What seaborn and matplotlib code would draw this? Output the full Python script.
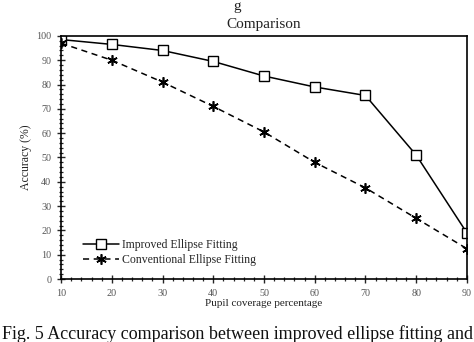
import pandas as pd
import matplotlib.pyplot as plt
import seaborn as sns
from matplotlib.ticker import MultipleLocator

coverage = [10, 20, 30, 40, 50, 60, 70, 80, 90]
improved = [98.5, 96.5, 94, 89.5, 83.5, 79, 75.5, 51, 19]
conventional = [97, 90, 81, 71, 60.5, 48, 37.5, 25, 12.5]
labels = ["Improved Ellipse Fitting", "Conventional Ellipse Fitting"]

sns.set_style("ticks")
plt.rcParams["font.family"] = ["Liberation Serif", "DejaVu Serif"]

df = pd.DataFrame({"x": coverage, "imp": improved, "conv": conventional})

fig = plt.figure(figsize=(4.74, 3.42), dpi=100)
ax = fig.add_axes([0.129, 0.184, 0.856, 0.711])

sns.lineplot(data=df, x="x", y="imp", ax=ax, color="black", lw=1.1,
             marker="s", markersize=7, markerfacecolor="white",
             markeredgecolor="black", markeredgewidth=1.0, label=labels[0])
sns.lineplot(data=df, x="x", y="conv", ax=ax, color="black", lw=1.1,
             linestyle=(0, (4, 3)), marker=(6, 2, 0), markersize=7.5,
             markeredgecolor="black", markeredgewidth=1.2, label=labels[1])

ax.set_xlim(10, 90)
ax.set_ylim(0, 100)
ax.xaxis.set_major_locator(MultipleLocator(10))
ax.xaxis.set_minor_locator(MultipleLocator(2))
ax.yaxis.set_major_locator(MultipleLocator(10))
ax.yaxis.set_minor_locator(MultipleLocator(2))
ax.tick_params(which="major", direction="inout", length=6, width=1.0,
               labelsize=7.3, labelcolor="#555555", pad=4)
ax.tick_params(which="minor", direction="inout", length=3, width=0.9)
for s in ax.spines.values():
    s.set_linewidth(1.2)
    s.set_color("black")

ax.set_xlabel("Pupil coverage percentage", fontsize=8, color="#222222", labelpad=1)
ax.set_ylabel("Accuracy (%)", fontsize=8.5, color="#222222", labelpad=3)
ax.set_title("Comparison", fontsize=11, color="#222222", pad=6)

ax.legend(loc="lower left", bbox_to_anchor=(0.04, 0.03), frameon=False,
          fontsize=8.5, handlelength=3.0, handletextpad=0.3, labelspacing=0.25,
          borderpad=0)

fig.text(0.5, 1.0, "g", ha="center", va="top", fontsize=11, color="#222222")
fig.text(0.5, 0.022, "Fig. 5 Accuracy comparison between improved ellipse fitting and",
         ha="center", va="center", fontsize=13, color="#111111")

plt.savefig("out.png", dpi=100)
plt.close()
print("done")
